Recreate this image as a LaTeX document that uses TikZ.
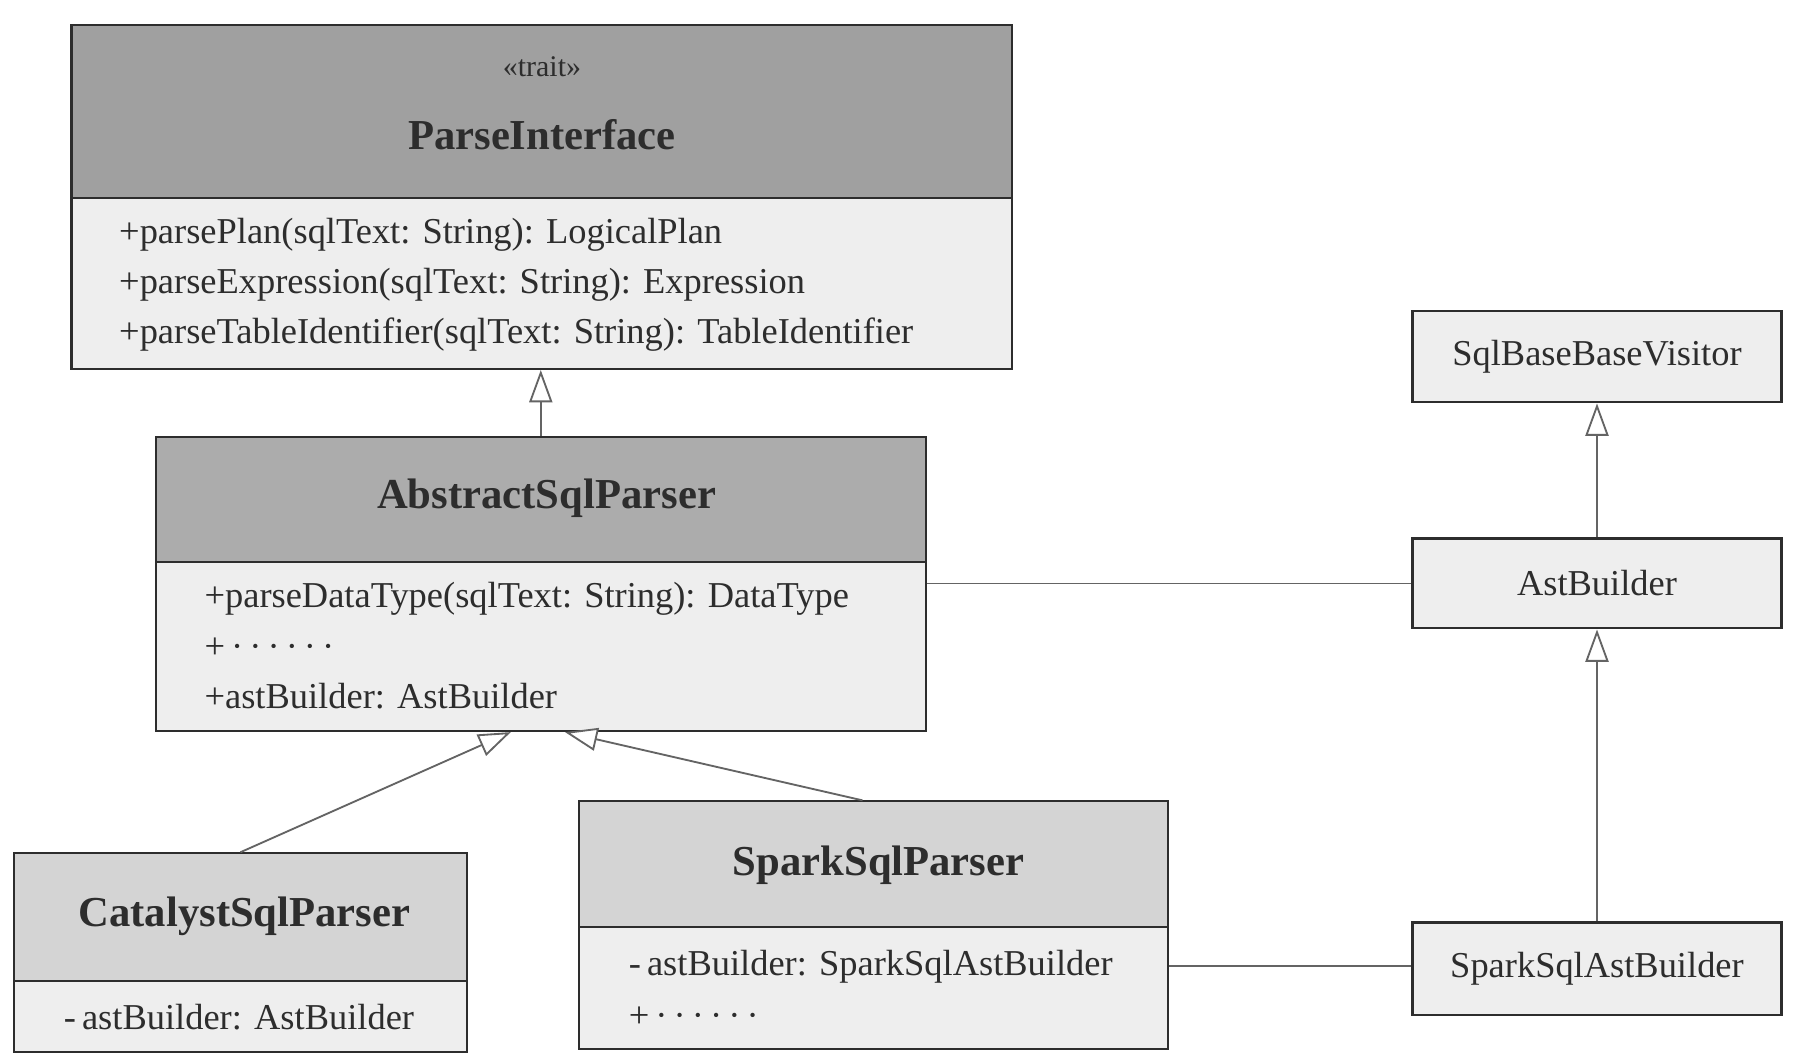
\documentclass[tikz,border=0pt]{standalone}
\usepackage{fontspec}
\setmainfont{Liberation Serif}
\usetikzlibrary{fit,arrows.meta}
\definecolor{hdark}{RGB}{160,160,160}
\definecolor{hmid}{RGB}{172,172,172}
\definecolor{hlight}{RGB}{212,212,212}
\definecolor{bodyc}{RGB}{238,238,238}
\definecolor{txt}{RGB}{45,45,45}
\definecolor{ln}{RGB}{100,100,100}
\begin{document}
\begin{tikzpicture}[x=0.5pt,y=-0.5pt,
  box/.style={draw=txt,line width=0.9pt,inner sep=0pt,fill=bodyc},
  hdr/.style={draw=txt,line width=0.9pt,inner sep=0pt},
  mem/.style={anchor=west,text=txt,font=\fontsize{15.8}{17}\selectfont,inner sep=0pt},
  ttl/.style={text=txt,font=\fontsize{18.5}{20}\selectfont\bfseries,inner sep=0pt},
  cls/.style={text=txt,font=\fontsize{15.8}{17}\selectfont,inner sep=0pt},
  conn/.style={draw=ln,line width=0.8pt},
  inh/.style={conn,-{Triangle[open,length=14pt,width=10pt,fill=white]}}]
\useasboundingbox[fill=white] (0,0) rectangle (1568,918);
% ParseInterface
\node[box,fit={(62,22)(878,320)}] (pi) {};
\node[hdr,fill=hdark,fit={(62,22)(878,172)}] (pih) {};
\node[cls,font=\fontsize{13}{14}\selectfont] (pit) at (470,58) {\textless\textless trait\textgreater\textgreater};
\node[ttl] (pin) at (470,117) {ParseInterface};
\node[mem] (pm1) at (103,204) {+parsePlan(sqlText: String): LogicalPlan};
\node[mem] (pm2) at (103,247) {+parseExpression(sqlText: String): Expression};
\node[mem] (pm3) at (103,290) {+parseTableIdentifier(sqlText: String): TableIdentifier};
% AbstractSqlParser
\node[box,fit={(135,379)(803,634)}] (as) {};
\node[hdr,fill=hmid,fit={(135,379)(803,487)}] (ash) {};
\node[ttl] (asn) at (474,432) {AbstractSqlParser};
\node[mem] (am1) at (177,519) {+parseDataType(sqlText: String): DataType};
\node[mem] (am2) at (177,562) {+\,·\,·\,·\,·\,·\,·};
\node[mem] (am3) at (177,604) {+astBuilder: AstBuilder};
% CatalystSqlParser
\node[box,fit={(12,740)(405,912)}] (cs) {};
\node[hdr,fill=hlight,fit={(12,740)(405,851)}] (csh) {};
\node[ttl] (csn) at (212,795) {CatalystSqlParser};
\node[mem] (cm1) at (55,882) {-\,astBuilder: AstBuilder};
% SparkSqlParser
\node[box,fit={(502,695)(1013,910)}] (ss) {};
\node[hdr,fill=hlight,fit={(502,695)(1013,804)}] (ssh) {};
\node[ttl] (ssn) at (762,750) {SparkSqlParser};
\node[mem] (sm1) at (545,838) {-\,astBuilder: SparkSqlAstBuilder};
\node[mem] (sm2) at (545,882) {+\,·\,·\,·\,·\,·\,·};
% right classes
\node[box,fit={(1225,270)(1545,349)}] (sv) {};
\node[cls] at (sv.center) {SqlBaseBaseVisitor};
\node[box,fit={(1225,467)(1545,545)}] (ab) {};
\node[cls] at (ab.center) {AstBuilder};
\node[box,fit={(1225,800)(1545,880)}] (sab) {};
\node[cls] at (sab.center) {SparkSqlAstBuilder};
% connectors
\draw[inh] (as.north -| 469,0) -- (pi.south -| 469,0);
\draw[inh] (cs.north) -- (as.south -| 443,0);
\draw[inh] (ss.north -| 748,0) -- (as.south -| 490,0);
\draw[conn] (as.east |- 0,506) -- (ab.west |- 0,506);
\draw[conn] (ss.east |- 0,838) -- (sab.west |- 0,838);
\draw[inh] (ab.north) -- (sv.south);
\draw[inh] (sab.north) -- (ab.south);
\end{tikzpicture}
\end{document}
